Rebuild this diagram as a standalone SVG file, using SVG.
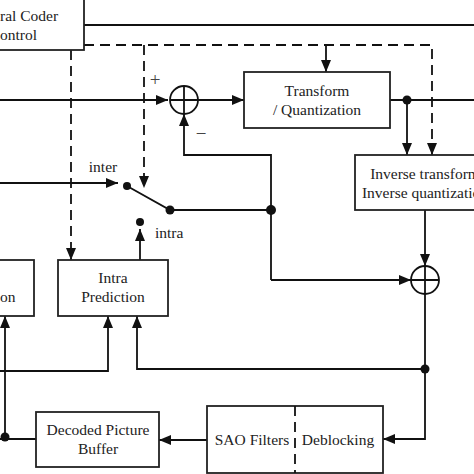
<svg xmlns="http://www.w3.org/2000/svg" width="474" height="474" viewBox="0 0 474 474">
<style>
.box{fill:#fff;stroke:#222;stroke-width:1.8}
.ln{fill:none;stroke:#111;stroke-width:1.8}
.dash{fill:none;stroke:#111;stroke-width:1.8;stroke-dasharray:10 6}
.dot{fill:#111}
text{font-family:"Liberation Serif","Times New Roman",serif;font-size:15.5px;fill:#222}
.c{text-anchor:middle}
.sign{font-size:19px;fill:#444}
</style>
<defs>
<marker id="arr" viewBox="0 0 12 10" refX="12" refY="5" markerWidth="12" markerHeight="11" orient="auto" markerUnits="userSpaceOnUse">
<path d="M0,0 L12,5 L0,10 z" fill="#111"/>
</marker>
</defs>
<rect width="474" height="474" fill="#fff"/>

<g id="connectors">
<path class="ln" d="M84,25 H474"/>
<path class="dash" d="M84,45 H432 V155" marker-end="url(#arr)"/>
<path class="ln" d="M326,45 V72" marker-end="url(#arr)"/>
<path class="dash" d="M71,50 V260" marker-end="url(#arr)"/>
<path class="dash" d="M144,45 V188" marker-end="url(#arr)"/>
<path class="ln" d="M0,100 H168" marker-end="url(#arr)"/>
<path class="ln" d="M198,100 H244" marker-end="url(#arr)"/>
<path class="ln" d="M390,100 H474"/>
<path class="ln" d="M407,100 V155" marker-end="url(#arr)"/>
<path class="ln" d="M271,280 V155 H184 V114" marker-end="url(#arr)"/>
<path class="ln" d="M271,280 H411" marker-end="url(#arr)"/>
<path class="ln" d="M425,210 V266" marker-end="url(#arr)"/>
<path class="ln" d="M425,294 V439 H383" marker-end="url(#arr)"/>
<path class="ln" d="M425,369 H137 V316" marker-end="url(#arr)"/>
<path class="ln" d="M0,371 H108 V316" marker-end="url(#arr)"/>
<path class="ln" d="M207,440 H159" marker-end="url(#arr)"/>
<path class="ln" d="M36,439 H0"/>
<path class="ln" d="M5,439 V316" marker-end="url(#arr)"/>
<path class="ln" d="M0,183 H118" marker-end="url(#arr)"/>
<path class="ln" d="M127,186 L170,210 H271"/>
<path class="ln" d="M140,260 V229" marker-end="url(#arr)"/>
<circle class="dot" cx="407" cy="100" r="4.5"/>
<circle class="dot" cx="271" cy="210" r="5"/>
<circle class="dot" cx="127" cy="186" r="4"/>
<circle class="dot" cx="170" cy="210" r="4.5"/>
<circle class="dot" cx="140" cy="222" r="4"/>
<circle class="dot" cx="425" cy="369" r="4.5"/>
<circle class="dot" cx="5" cy="437" r="4.5"/>
<text x="155" y="86" class="c sign">+</text>
<text x="201" y="140" class="c sign">−</text>
<text x="103" y="172" class="c">inter</text>
<text x="155" y="238">intra</text>
</g>

<g id="coder-control">
<rect class="box" x="-60" y="-2" width="144" height="52"/>
<text x="0" y="21">ral Coder</text>
<text x="0" y="40">ontrol</text>
</g>

<g id="sum1">
<circle cx="184" cy="100" r="14" fill="#fff" stroke="#111" stroke-width="1.8"/>
<path class="ln" d="M170,100 H198 M184,86 V114"/>
</g>

<g id="transform">
<rect class="box" x="244" y="72" width="146" height="56"/>
<text x="317" y="96" class="c">Transform</text>
<text x="317" y="115" class="c">/ Quantization</text>
</g>

<g id="inverse">
<rect class="box" x="355" y="155" width="140" height="55"/>
<text x="425" y="179" class="c">Inverse transform</text>
<text x="425" y="198" class="c">Inverse quantization</text>
</g>

<g id="sum2">
<circle cx="425" cy="280" r="14" fill="#fff" stroke="#111" stroke-width="1.8"/>
<path class="ln" d="M411,280 H439 M425,266 V294"/>
</g>

<g id="inter-prediction">
<rect class="box" x="-76" y="260" width="110" height="56"/>
<text x="0" y="302">on</text>
</g>

<g id="intra-prediction">
<rect class="box" x="58" y="260" width="110" height="56"/>
<text x="113" y="283" class="c">Intra</text>
<text x="113" y="302" class="c">Prediction</text>
</g>

<g id="dpb">
<rect class="box" x="36" y="412" width="123" height="55"/>
<text x="98" y="435" class="c">Decoded Picture</text>
<text x="98" y="454" class="c">Buffer</text>
</g>

<g id="filters">
<rect class="box" x="207" y="406" width="176" height="67"/>
<path class="dash" d="M295,406 V473"/>
<text x="252" y="445" class="c">SAO Filters</text>
<text x="338" y="445" class="c">Deblocking</text>
</g>
</svg>
